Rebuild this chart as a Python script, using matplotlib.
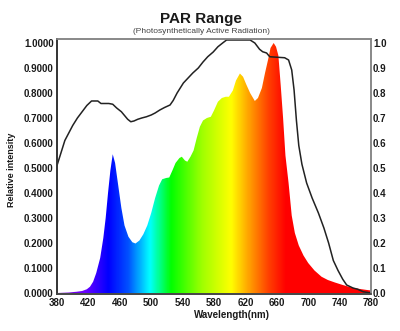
import numpy as np
import matplotlib
matplotlib.use("Agg")
import matplotlib.pyplot as plt
from matplotlib.colors import LinearSegmentedColormap
from matplotlib.patches import Polygon

# LED spectrum (coloured fill)
spec_wl = [380, 395, 405, 412, 418, 422, 426, 430, 435, 439, 442, 445, 448, 451,
           454, 458, 462, 466, 471, 476, 480, 485, 490, 495, 500, 505, 510, 514,
           519, 523, 527, 531, 536, 539, 543, 546, 550, 554, 558, 562, 566, 571,
           576, 580, 585, 590, 595, 599, 604, 608, 613, 617, 621, 626, 632, 636,
           641, 645, 649, 652, 656, 659, 662, 665, 668, 671, 675, 679, 683, 688,
           694, 700, 708, 717, 725, 734, 744, 755, 766, 775, 780]
spec_val = [0.0, 0.002, 0.005, 0.008, 0.015, 0.025, 0.045, 0.08, 0.14, 0.22, 0.30,
            0.40, 0.49, 0.555, 0.52, 0.43, 0.34, 0.27, 0.225, 0.203, 0.198, 0.21,
            0.235, 0.27, 0.32, 0.38, 0.43, 0.455, 0.46, 0.462, 0.49, 0.52, 0.54,
            0.545, 0.53, 0.525, 0.545, 0.57, 0.62, 0.665, 0.69, 0.70, 0.705, 0.73,
            0.765, 0.78, 0.785, 0.785, 0.81, 0.85, 0.878, 0.865, 0.835, 0.80,
            0.768, 0.78, 0.82, 0.88, 0.935, 0.98, 1.0, 0.985, 0.95, 0.83, 0.70,
            0.55, 0.44, 0.31, 0.24, 0.19, 0.15, 0.12, 0.09, 0.065, 0.052, 0.042,
            0.032, 0.022, 0.016, 0.012, 0.01]

# PAR reference curve (black line)
par_wl = [380, 385, 390, 395, 400, 406, 412, 418, 424, 432, 436, 446, 451, 456,
          462, 466, 470, 474, 478, 483, 488, 494, 500, 505, 511, 517, 524, 528,
          533, 537, 541, 547, 553, 560, 566, 572, 579, 585, 591, 596, 626, 632,
          638, 642, 647, 651, 670, 675, 679, 682, 685, 688, 692, 698, 705, 713,
          720, 726, 732, 738, 744, 749, 757, 763, 770, 780]
par_val = [0.51, 0.56, 0.61, 0.64, 0.67, 0.70, 0.725, 0.75, 0.768, 0.768, 0.758,
           0.758, 0.755, 0.74, 0.725, 0.71, 0.695, 0.685, 0.688, 0.695, 0.70,
           0.705, 0.712, 0.72, 0.732, 0.742, 0.752, 0.77, 0.80, 0.82, 0.84, 0.86,
           0.88, 0.90, 0.924, 0.945, 0.964, 0.985, 1.0, 1.012, 1.012, 1.0, 0.975,
           0.965, 0.96, 0.945, 0.941, 0.932, 0.892, 0.812, 0.69, 0.59, 0.515,
           0.44, 0.38, 0.32, 0.26, 0.20, 0.13, 0.09, 0.055, 0.032, 0.02, 0.015,
           0.005, 0.0]

x_ticks = [380, 420, 460, 500, 540, 580, 620, 660, 700, 740, 780]
y_ticks = [0.0, 0.1, 0.2, 0.3, 0.4, 0.5, 0.6, 0.7, 0.8, 0.9, 1.0]

# wavelength -> colour stops for the rainbow fill
col_wl = [380, 415, 445, 470, 498, 525, 565, 602, 625, 650, 672, 780]
col_hex = ['#7a00d0', '#6a00ff', '#0000ff', '#0050ff', '#00ffff', '#00ff00',
           '#a0ff00', '#ffff00', '#ffa000', '#ff4000', '#ff0000', '#ff0000']

plt.rcParams['font.family'] = ['Liberation Sans', 'DejaVu Sans']
txt = '#1a1a1a'

fig = plt.figure(figsize=(4.0, 3.31), dpi=100)
ax = fig.add_axes([0.1425, 0.1118, 0.785, 0.7704])

xmin, xmax = 380, 780
ylo, yhi = -0.004, 1.016

stops = [((w - xmin) / (xmax - xmin), c) for w, c in zip(col_wl, col_hex)]
cmap = LinearSegmentedColormap.from_list('spec', stops)
grad = np.linspace(0, 1, 800).reshape(1, -1)
im = ax.imshow(grad, cmap=cmap, aspect='auto', extent=[xmin, xmax, 0, 1.02],
               origin='lower', interpolation='bilinear', zorder=1)
verts = [(xmin, 0)] + list(zip(spec_wl, spec_val)) + [(xmax, 0)]
poly = Polygon(verts, closed=True, facecolor='none', edgecolor='none')
ax.add_patch(poly)
im.set_clip_path(poly)

ax.plot(par_wl, par_val, color='#222222', lw=1.1, zorder=3)

ax.set_xlim(xmin, xmax)
ax.set_ylim(ylo, yhi)
ax.set_xticks(x_ticks)
ax.set_xticklabels([str(t) for t in x_ticks])
ax.set_yticks(y_ticks)
ax.set_yticklabels(['%.4f' % t for t in y_ticks])
ax.tick_params(length=0, labelsize=7, colors=txt)
ax.tick_params(axis='y', pad=2.5)
ax.tick_params(axis='x', pad=3)
for lab in ax.get_xticklabels() + ax.get_yticklabels():
    lab.set_fontweight('bold')

ax2 = ax.twinx()
ax2.set_ylim(ylo, yhi)
ax2.set_yticks(y_ticks)
ax2.set_yticklabels(['%.1f' % t for t in y_ticks])
ax2.tick_params(length=0, labelsize=7, colors=txt, pad=1.5)
for lab in ax2.get_yticklabels():
    lab.set_fontweight('bold')

for a in (ax, ax2):
    a.spines['left'].set_color('#333333')
    a.spines['bottom'].set_color('#444444')
    a.spines['top'].set_color('#888888')
    a.spines['right'].set_color('#888888')
    for s in a.spines.values():
        s.set_linewidth(1.2)

fig.text(0.503, 0.943, 'PAR Range', ha='center', va='center',
         fontsize=11, fontweight='bold', color=txt)
fig.text(0.503, 0.904, '(Photosynthetically Active Radiation)', ha='center',
         va='center', fontsize=6, color='#444444')
fig.text(0.58, 0.048, 'Wavelength(nm)', ha='center', va='center',
         fontsize=7, fontweight='bold', color=txt)
fig.text(0.03, 0.486, 'Relative intensity', ha='center', va='center',
         rotation=90, fontsize=6.5, fontweight='bold', color=txt)

fig.savefig('out.png', dpi=100)
